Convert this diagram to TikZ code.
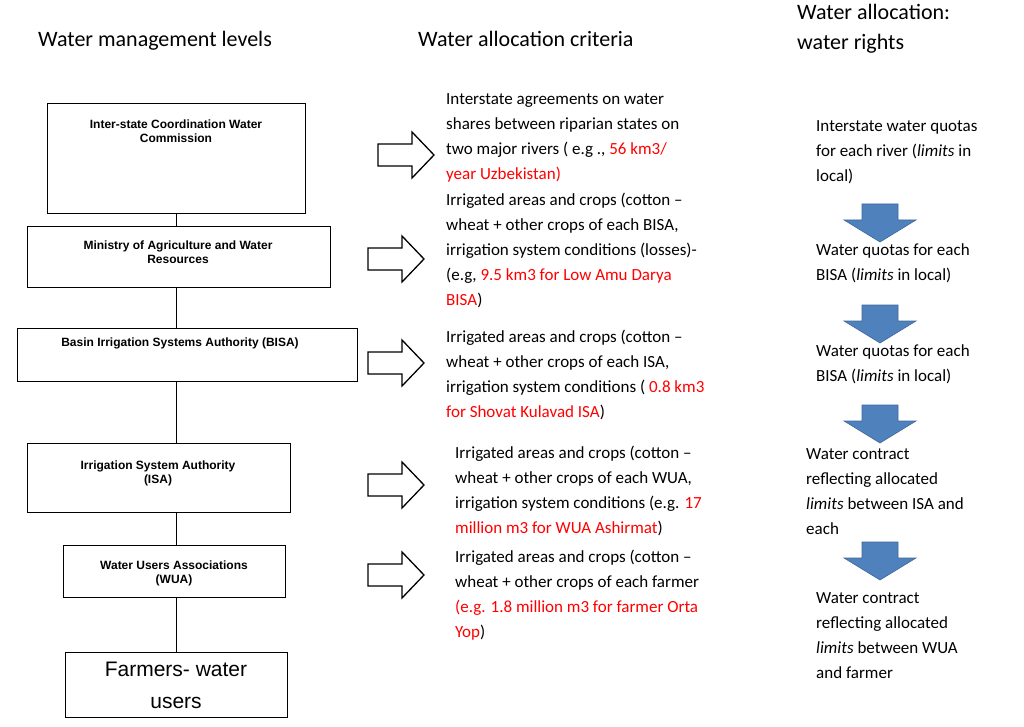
\documentclass[tikz,border=0pt]{standalone}
\usepackage{fontspec}
\setmainfont{Carlito}
\newfontfamily\arialf{Liberation Sans}
\definecolor{blu}{HTML}{4F81BD}
\begin{document}
\begin{tikzpicture}[x=1pt,y=-1pt,
 box/.style={draw,line width=0.8pt,anchor=north west,inner sep=0},
 blab/.style={font=\arialf\bfseries\fontsize{12}{14}\selectfont,align=center},
 txt/.style={anchor=north west,inner sep=0,align=left,font=\fontsize{17}{25}\selectfont},
 hd/.style={anchor=north west,inner sep=0,align=left,font=\fontsize{22}{30}\selectfont},
 warr/.style={draw,line width=1.3pt,fill=white,line join=miter},
 barr/.style={fill=blu,draw=blu!80!black,line width=0.6pt}]
\useasboundingbox (0,0) rectangle (1024,727);
\node[hd] (h1) at (38,31) {Water management levels};
\node[hd] (h2) at (418,31) {Water allocation criteria};
\node[hd] (h3) at (797,4) {Water allocation:\\water rights};
% boxes
\node[box,minimum width=258pt,minimum height=110pt] (b1) at (47,103) {};
\node[blab] (l1) at (176,131) {Inter-state Coordination Water\\Commission};
\node[box,minimum width=303pt,minimum height=61pt] (b2) at (27,226) {};
\node[blab] (l2) at (178,252) {Ministry of Agriculture and Water\\Resources};
\node[box,minimum width=340pt,minimum height=53pt] (b3) at (17,328) {};
\node[blab] (l3) at (180,343) {Basin Irrigation Systems Authority (BISA)};
\node[box,minimum width=263pt,minimum height=69pt] (b4) at (27,443) {};
\node[blab] (l4) at (158,473) {Irrigation System Authority\\(ISA)};
\node[box,minimum width=222pt,minimum height=52pt] (b5) at (63,545) {};
\node[blab] (l5) at (174,573) {Water Users Associations\\(WUA)};
\node[box,minimum width=222pt,minimum height=65pt] (b6) at (65,652) {};
\node[align=center,font=\arialf\fontsize{21}{32}\selectfont] (l6) at (176,685) {Farmers- water\\users};
\coordinate (vx) at (176,0);
\draw[line width=0.8pt] (b1.south-|vx) -- (b2.north-|vx);
\draw[line width=0.8pt] (b2.south-|vx) -- (b3.north-|vx);
\draw[line width=0.8pt] (b3.south-|vx) -- (b4.north-|vx);
\draw[line width=0.8pt] (b4.south-|vx) -- (b5.north-|vx);
\draw[line width=0.8pt] (b5.south-|vx) -- (b6.north-|vx);
% white arrows
\foreach \n/\x/\y in {a1/378/155,a2/368/259,a3/368/363,a4/368/485,a5/368/575}{
 \draw[warr] (\x,\y-11) -- ++(34,0) -- ++(0,-12) -- ++(22,23) -- ++(-22,23) -- ++(0,-12) -- ++(-34,0) -- cycle;
 \coordinate (\n) at (\x+28,\y);
}
% middle texts
\node[txt] (t1) at (446,93) {Interstate agreements on water\\shares between riparian states on\\two major rivers ( e.g ., \textcolor{red}{56 km3/}\\\textcolor{red}{year Uzbekistan)}};
\node[txt] (t2) at (446,193) {Irrigated areas and crops (cotton –\\wheat + other crops of each BISA,\\irrigation system conditions (losses)-\\(e.g, \textcolor{red}{9.5 km3 for Low Amu Darya}\\\textcolor{red}{BISA})};
\node[txt] (t3) at (446,330) {Irrigated areas and crops (cotton –\\wheat + other crops of each ISA,\\irrigation system conditions ( \textcolor{red}{0.8 km3}\\\textcolor{red}{for Shovat Kulavad ISA})};
\node[txt] (t4) at (455,446) {Irrigated areas and crops (cotton –\\wheat + other crops of each WUA,\\irrigation system conditions (e.g. \textcolor{red}{17}\\\textcolor{red}{million m3 for WUA Ashirmat})};
\node[txt] (t5) at (455,550) {Irrigated areas and crops (cotton –\\wheat + other crops of each farmer\\\textcolor{red}{(e.g. 1.8 million m3 for farmer Orta}\\\textcolor{red}{Yop})};
% right texts
\node[txt] (r1) at (816,120) {Interstate water quotas\\for each river (\textit{limits} in\\local)};
\node[txt] (r2) at (816,243) {Water quotas for each\\BISA (\textit{limits} in local)};
\node[txt] (r3) at (816,344) {Water quotas for each\\BISA (\textit{limits} in local)};
\node[txt] (r4) at (806,448) {Water contract\\reflecting allocated\\\textit{limits} between ISA and\\each};
\node[txt] (r5) at (816,592) {Water contract\\reflecting allocated\\\textit{limits} between WUA\\and farmer};
% blue arrows
\foreach \n/\y in {d1/204,d2/305,d3/405,d4/542}{
 \draw[barr] (862,\y) -- ++(36,0) -- ++(0,16) -- ++(18,0) -- ++(-36,22) -- ++(-36,-22) -- ++(18,0) -- cycle;
 \coordinate (\n) at (880,\y+20);
}
\end{tikzpicture}
\end{document}
